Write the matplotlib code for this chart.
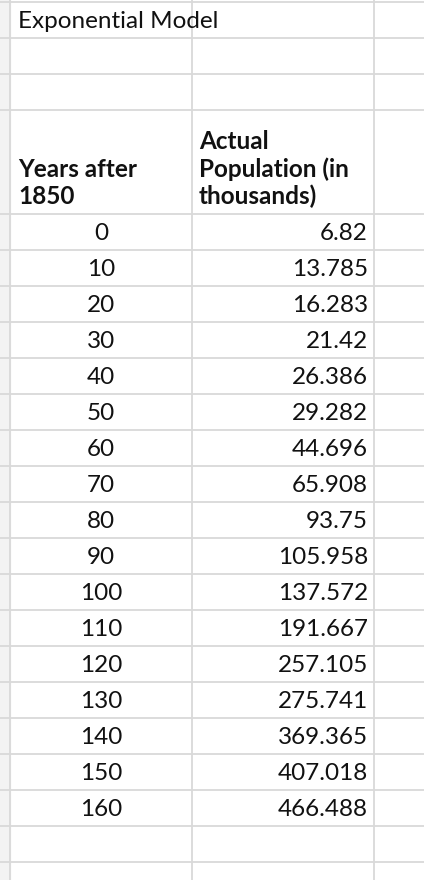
import matplotlib
matplotlib.use("Agg")
import matplotlib.pyplot as plt

title = "Exponential Model"
header_years = "Years after\n1850"
header_pop = "Actual\nPopulation (in\nthousands)"
years = [0, 10, 20, 30, 40, 50, 60, 70, 80, 90, 100, 110, 120, 130, 140, 150, 160]
population = ["6.82", "13.785", "16.283", "21.42", "26.386", "29.282", "44.696", "65.908",
              "93.75", "105.958", "137.572", "191.667", "257.105", "275.741", "369.365",
              "407.018", "466.488"]

plt.rcParams['font.family'] = ['Lato', 'DejaVu Sans']
fig = plt.figure(figsize=(4.24, 8.8), dpi=100)
ax = fig.add_axes([0, 0, 1, 1])
ax.set_xlim(0, 424); ax.set_ylim(880, 0); ax.axis('off')

grid = '#d9d9d9'
ax.axvspan(0, 10, color='#f3f3f3', zorder=0)
for x in (10, 192, 374):
    ax.axvline(x, color=grid, lw=1.3)
hlines = [2, 38, 74, 110, 214] + [214 + 36 * (k + 1) for k in range(len(years) + 2)]
for y in hlines:
    ax.axhline(y, color=grid, lw=1.3)

fs = 17.5
ax.text(18, 22, title, fontsize=fs, va='center', ha='left', color='#111')
ax.text(18, 208, header_years, fontsize=fs, fontweight='bold', va='bottom', ha='left',
        linespacing=1.2, color='#111')
ax.text(199, 208, header_pop, fontsize=fs, fontweight='bold', va='bottom', ha='left',
        linespacing=1.2, color='#111')
for i, (yr, p) in enumerate(zip(years, population)):
    yc = 214 + 36 * i + 19
    ax.text(101, yc, str(yr), fontsize=fs, ha='center', va='center', color='#111')
    ax.text(368, yc, p, fontsize=fs, ha='right', va='center', color='#111')

fig.savefig('out.png', dpi=100)
